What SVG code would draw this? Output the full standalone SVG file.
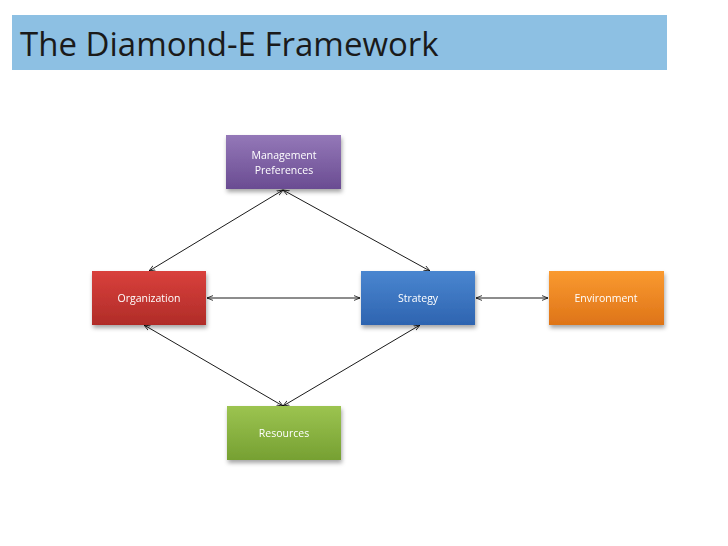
<svg xmlns="http://www.w3.org/2000/svg" width="728" height="546" viewBox="0 0 728 546">
<defs>
<linearGradient id="gp" x1="0" y1="0" x2="0" y2="1"><stop offset="0" stop-color="#9478B8"/><stop offset="1" stop-color="#6A4C92"/></linearGradient>
<linearGradient id="gr" x1="0" y1="0" x2="0" y2="1"><stop offset="0" stop-color="#D9403C"/><stop offset="1" stop-color="#B02C28"/></linearGradient>
<linearGradient id="gb" x1="0" y1="0" x2="0" y2="1"><stop offset="0" stop-color="#4A86D0"/><stop offset="1" stop-color="#2E64B0"/></linearGradient>
<linearGradient id="go" x1="0" y1="0" x2="0" y2="1"><stop offset="0" stop-color="#FA9A30"/><stop offset="1" stop-color="#DE7418"/></linearGradient>
<linearGradient id="gg" x1="0" y1="0" x2="0" y2="1"><stop offset="0" stop-color="#9CC450"/><stop offset="1" stop-color="#76A032"/></linearGradient>
<filter id="sh" x="-10%" y="-10%" width="130%" height="140%"><feDropShadow dx="1" dy="3" stdDeviation="2" flood-color="#000" flood-opacity="0.35"/></filter>
<marker id="ah" viewBox="0 0 10 10" refX="10" refY="5" markerWidth="7" markerHeight="7" orient="auto-start-reverse"><path d="M0,1 L10,5 L0,9" fill="none" stroke="#000" stroke-width="1.2"/></marker>
</defs>
<style>
.n{filter:url(#sh)}
.t{font-family:"Open Sans","Liberation Sans",sans-serif;font-size:10.5px;fill:#fff;text-anchor:middle}
.c line{stroke:#000;stroke-width:0.9;marker-start:url(#ah);marker-end:url(#ah)}
</style>
<rect width="728" height="546" fill="#fff"/>
<rect x="12" y="15" width="655" height="55" fill="#8DC0E3"/>
<text x="20" y="56" font-family="'Open Sans','Liberation Sans',sans-serif" font-size="33" fill="#1a1a1a">The Diamond-E Framework</text>
<g class="c">
<line x1="283" y1="190" x2="149" y2="271"/>
<line x1="283" y1="190" x2="430" y2="271"/>
<line x1="207" y1="298" x2="360" y2="298"/>
<line x1="476" y1="298" x2="548" y2="298"/>
<line x1="144" y1="325" x2="283" y2="406"/>
<line x1="420" y1="325" x2="283" y2="406"/>
</g>
<g id="mgmt" class="n"><rect x="226" y="135" width="115" height="54" fill="url(#gp)"/><text class="t" x="284" y="159">Management</text><text class="t" x="284" y="174">Preferences</text></g>
<g id="org" class="n"><rect x="92" y="271" width="114" height="54" fill="url(#gr)"/><text class="t" x="149" y="302">Organization</text></g>
<g id="strategy" class="n"><rect x="361" y="271" width="114" height="54" fill="url(#gb)"/><text class="t" x="418" y="302">Strategy</text></g>
<g id="env" class="n"><rect x="549" y="271" width="115" height="54" fill="url(#go)"/><text class="t" x="606" y="302">Environment</text></g>
<g id="res" class="n"><rect x="227" y="406" width="114" height="54" fill="url(#gg)"/><text class="t" x="284" y="437">Resources</text></g>
</svg>
